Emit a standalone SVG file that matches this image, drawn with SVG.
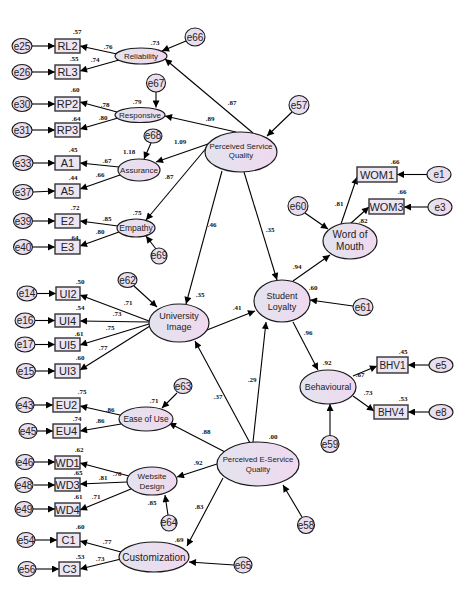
<svg xmlns="http://www.w3.org/2000/svg" width="474" height="590" viewBox="0 0 474 590">
<defs>
<linearGradient id="g" x1="0" y1="0" x2="1" y2="0">
<stop offset="0" stop-color="#e3e3ee"/>
<stop offset="1" stop-color="#efd9ef"/>
</linearGradient>
<marker id="a" viewBox="0 0 10 10" refX="10" refY="5" markerWidth="9" markerHeight="7" markerUnits="userSpaceOnUse" orient="auto">
<path d="M0,0 L10,5 L0,10 z" fill="#000"/>
</marker>
<style>
.lat{fill:url(#g);stroke:#1a1a1a;stroke-width:1.2}
.err{fill:url(#g);stroke:#1a1a1a;stroke-width:1.1}
.ind{fill:#ece5f3;stroke:#333;stroke-width:1.4}
.c line{stroke:#000;stroke-width:1.1;marker-end:url(#a)}
text{font-family:"Liberation Sans",Arial,sans-serif;fill:#222;text-anchor:middle}
.k{font-family:"Liberation Serif","Times New Roman",serif;font-size:7px;font-weight:bold;fill:#111}
.e{font-size:10px}
.r{font-size:11px}
</style>
</defs>
<rect width="474" height="590" fill="#fff"/>

<g id="connectors" class="c">
<line x1="32" y1="46" x2="55" y2="46"/>
<line x1="32" y1="72" x2="55" y2="72"/>
<line x1="117" y1="54" x2="80" y2="46"/>
<line x1="119" y1="60" x2="80" y2="71"/>
<line x1="186" y1="41" x2="162" y2="51"/>
<line x1="253" y1="133" x2="165" y2="59"/>
<line x1="32" y1="104" x2="55" y2="104"/>
<line x1="32" y1="130" x2="55" y2="130"/>
<line x1="117" y1="112" x2="80" y2="102"/>
<line x1="118" y1="118" x2="80" y2="129"/>
<line x1="156" y1="92" x2="156" y2="107.5"/>
<line x1="236" y1="132" x2="165" y2="116"/>
<line x1="151" y1="143" x2="144" y2="159"/>
<line x1="208" y1="144" x2="156" y2="162"/>
<line x1="119" y1="167" x2="80" y2="163"/>
<line x1="120" y1="175" x2="80" y2="189"/>
<line x1="33" y1="163" x2="55" y2="163"/>
<line x1="33" y1="192" x2="55" y2="191"/>
<line x1="208" y1="146" x2="146" y2="220"/>
<line x1="118" y1="226" x2="80" y2="221"/>
<line x1="119" y1="232" x2="80" y2="246"/>
<line x1="156" y1="249" x2="146" y2="236"/>
<line x1="33" y1="221" x2="55" y2="221"/>
<line x1="33" y1="247" x2="55" y2="247"/>
<line x1="222" y1="171" x2="186" y2="304"/>
<line x1="244" y1="172" x2="277" y2="280"/>
<line x1="292" y1="112" x2="267" y2="136"/>
<line x1="305" y1="213" x2="328" y2="229"/>
<line x1="293" y1="281" x2="330" y2="255"/>
<line x1="341" y1="224" x2="357" y2="177"/>
<line x1="350" y1="224" x2="369" y2="207"/>
<line x1="427" y1="174.5" x2="397" y2="174.5"/>
<line x1="428" y1="207" x2="404" y2="207"/>
<line x1="149" y1="321" x2="80" y2="295"/>
<line x1="149" y1="322" x2="80" y2="321"/>
<line x1="149" y1="324" x2="80" y2="345"/>
<line x1="150" y1="326" x2="80" y2="370"/>
<line x1="134" y1="286" x2="157" y2="307"/>
<line x1="37" y1="293.5" x2="56" y2="293.5"/>
<line x1="35" y1="320.5" x2="55" y2="320.5"/>
<line x1="35" y1="344.5" x2="55" y2="344.5"/>
<line x1="35" y1="371" x2="55" y2="371"/>
<line x1="207" y1="330" x2="255" y2="311"/>
<line x1="353" y1="306" x2="310" y2="300"/>
<line x1="293" y1="322" x2="318" y2="370"/>
<line x1="353" y1="376" x2="377" y2="366"/>
<line x1="353" y1="396" x2="374" y2="411"/>
<line x1="429" y1="365" x2="408" y2="365"/>
<line x1="429" y1="412" x2="408" y2="412"/>
<line x1="330" y1="435" x2="330" y2="404"/>
<line x1="253" y1="442" x2="266" y2="322"/>
<line x1="250" y1="443" x2="195" y2="341"/>
<line x1="225" y1="452" x2="169" y2="423"/>
<line x1="217" y1="464" x2="177" y2="477"/>
<line x1="223" y1="478" x2="187" y2="546"/>
<line x1="302" y1="517" x2="283" y2="485"/>
<line x1="177" y1="393" x2="162" y2="408"/>
<line x1="120" y1="415" x2="80" y2="406"/>
<line x1="121" y1="424" x2="80" y2="431"/>
<line x1="34" y1="405" x2="53" y2="405"/>
<line x1="37" y1="431" x2="53" y2="431"/>
<line x1="129" y1="476" x2="80" y2="463"/>
<line x1="127" y1="482" x2="80" y2="484"/>
<line x1="131" y1="489" x2="80" y2="510"/>
<line x1="168" y1="515" x2="165" y2="495"/>
<line x1="34" y1="462" x2="55" y2="462"/>
<line x1="34" y1="485" x2="55" y2="485"/>
<line x1="33" y1="509" x2="55" y2="509"/>
<line x1="121" y1="552" x2="80" y2="541"/>
<line x1="121" y1="559" x2="80" y2="569"/>
<line x1="234" y1="565" x2="189" y2="562"/>
<line x1="35" y1="540" x2="57" y2="540"/>
<line x1="36" y1="569" x2="59" y2="569"/>
</g>

<g id="coefficients" class="k">
<text class="k" x="77" y="34">.57</text>
<text class="k" x="74" y="61">.55</text>
<text class="k" x="108" y="49">.76</text>
<text class="k" x="95" y="62">.74</text>
<text class="k" x="155" y="45">.73</text>
<text class="k" x="232" y="105">.87</text>
<text class="k" x="75" y="92">.60</text>
<text class="k" x="105" y="107">.78</text>
<text class="k" x="137" y="104">.79</text>
<text class="k" x="76" y="121">.64</text>
<text class="k" x="103" y="120">.80</text>
<text class="k" x="210" y="121">.89</text>
<text class="k" x="129" y="154">1.18</text>
<text class="k" x="180" y="144">1.09</text>
<text class="k" x="73" y="152">.45</text>
<text class="k" x="107" y="163">.67</text>
<text class="k" x="100" y="177">.66</text>
<text class="k" x="73" y="180">.44</text>
<text class="k" x="169" y="179">.87</text>
<text class="k" x="137" y="215">.75</text>
<text class="k" x="75" y="210">.72</text>
<text class="k" x="107" y="221">.85</text>
<text class="k" x="100" y="234">.80</text>
<text class="k" x="74" y="240">.64</text>
<text class="k" x="212" y="227">.46</text>
<text class="k" x="395" y="164">.66</text>
<text class="k" x="402" y="194">.66</text>
<text class="k" x="339" y="206">.81</text>
<text class="k" x="363" y="223">.82</text>
<text class="k" x="270" y="232">.35</text>
<text class="k" x="297" y="269">.94</text>
<text class="k" x="80" y="284">.50</text>
<text class="k" x="128" y="305">.71</text>
<text class="k" x="80" y="310">.54</text>
<text class="k" x="117" y="316">.73</text>
<text class="k" x="79" y="336">.61</text>
<text class="k" x="110" y="330">.75</text>
<text class="k" x="80" y="360">.60</text>
<text class="k" x="103" y="350">.77</text>
<text class="k" x="200" y="297">.35</text>
<text class="k" x="237" y="310">.41</text>
<text class="k" x="313" y="290">.60</text>
<text class="k" x="308" y="335">.96</text>
<text class="k" x="327" y="365">.92</text>
<text class="k" x="403" y="354">.45</text>
<text class="k" x="360" y="377">.67</text>
<text class="k" x="368" y="395">.73</text>
<text class="k" x="403" y="401">.53</text>
<text class="k" x="252" y="382">.29</text>
<text class="k" x="218" y="399">.37</text>
<text class="k" x="206" y="434">.88</text>
<text class="k" x="273" y="439">.00</text>
<text class="k" x="198" y="465">.92</text>
<text class="k" x="199" y="509">.83</text>
<text class="k" x="154" y="403">.71</text>
<text class="k" x="82" y="394">.75</text>
<text class="k" x="110" y="412">.86</text>
<text class="k" x="100" y="423">.86</text>
<text class="k" x="77" y="421">.74</text>
<text class="k" x="79" y="452">.62</text>
<text class="k" x="117" y="476">.78</text>
<text class="k" x="78" y="475">.65</text>
<text class="k" x="103" y="480">.81</text>
<text class="k" x="78" y="499">.61</text>
<text class="k" x="96" y="499">.71</text>
<text class="k" x="152" y="505">.85</text>
<text class="k" x="80" y="529">.60</text>
<text class="k" x="107" y="544">.77</text>
<text class="k" x="80" y="559">.53</text>
<text class="k" x="100" y="561">.73</text>
<text class="k" x="179" y="542">.69</text>
</g>

<!-- latent variables -->
<g id="Reliability"><ellipse class="lat" cx="141" cy="56" rx="26" ry="8"/><text x="141" y="59" font-size="8">Reliability</text></g>
<g id="Responsive"><ellipse class="lat" cx="140" cy="115" rx="25" ry="7.5"/><text x="140" y="118" font-size="8">Responsive</text></g>
<g id="Assurance"><ellipse class="lat" cx="139" cy="170" rx="21" ry="11"/><text x="139" y="173" font-size="8">Assurance</text></g>
<g id="Empathy"><ellipse class="lat" cx="136" cy="228" rx="19" ry="9"/><text x="136" y="231" font-size="8.5">Empathy</text></g>
<g id="PSQ"><ellipse class="lat" cx="241" cy="152" rx="36" ry="20"/><text x="241" y="149" font-size="7.8">Perceived Service</text><text x="241" y="158" font-size="7.8">Quality</text></g>
<g id="WOM"><ellipse class="lat" cx="350" cy="241" rx="27" ry="18"/><text x="350" y="238" font-size="10">Word of</text><text x="350" y="250" font-size="10">Mouth</text></g>
<g id="UI"><ellipse class="lat" cx="179" cy="323" rx="30" ry="19"/><text x="179" y="319" font-size="9">University</text><text x="179" y="330" font-size="9">Image</text></g>
<g id="SL"><ellipse class="lat" cx="282" cy="301" rx="28" ry="21"/><text x="282" y="299" font-size="9">Student</text><text x="282" y="310" font-size="9">Loyalty</text></g>
<g id="Behavioural"><ellipse class="lat" cx="328" cy="387" rx="28" ry="17"/><text x="328" y="390" font-size="8.8">Behavioural</text></g>
<g id="EaseOfUse"><ellipse class="lat" cx="146" cy="419" rx="27" ry="12"/><text x="146" y="422" font-size="8.3">Ease of Use</text></g>
<g id="WebsiteDesign"><ellipse class="lat" cx="152" cy="481" rx="25" ry="14"/><text x="152" y="479" font-size="8">Website</text><text x="152" y="489" font-size="8">Design</text></g>
<g id="PESQ"><ellipse class="lat" cx="258" cy="464" rx="41" ry="22"/><text x="258" y="462" font-size="7.8">Perceived E-Service</text><text x="258" y="472" font-size="7.8">Quality</text></g>
<g id="Customization"><ellipse class="lat" cx="154" cy="557" rx="35" ry="15"/><text x="154" y="561" font-size="10">Customization</text></g>

<!-- indicators -->
<g id="RL2"><rect class="ind" x="55" y="39" width="25" height="14"/><text class="r" x="67.5" y="50">RL2</text></g>
<g id="RL3"><rect class="ind" x="55" y="65" width="25" height="14"/><text class="r" x="67.5" y="76">RL3</text></g>
<g id="RP2"><rect class="ind" x="55" y="97" width="25" height="14"/><text class="r" x="67.5" y="108">RP2</text></g>
<g id="RP3"><rect class="ind" x="55" y="123" width="25" height="14"/><text class="r" x="67.5" y="134">RP3</text></g>
<g id="A1"><rect class="ind" x="55" y="156" width="25" height="14"/><text class="r" x="67.5" y="167">A1</text></g>
<g id="A5"><rect class="ind" x="55" y="184" width="25" height="14"/><text class="r" x="67.5" y="195">A5</text></g>
<g id="E2"><rect class="ind" x="55" y="214" width="25" height="14"/><text class="r" x="67.5" y="225">E2</text></g>
<g id="E3"><rect class="ind" x="55" y="240" width="25" height="14"/><text class="r" x="67.5" y="251">E3</text></g>
<g id="UI2"><rect class="ind" x="56" y="287" width="24" height="13"/><text class="r" x="68" y="297.5">UI2</text></g>
<g id="UI4"><rect class="ind" x="55" y="314" width="25" height="13"/><text class="r" x="67.5" y="324.5">UI4</text></g>
<g id="UI5"><rect class="ind" x="55" y="338" width="25" height="13"/><text class="r" x="67.5" y="348.5">UI5</text></g>
<g id="UI3"><rect class="ind" x="55" y="364" width="25" height="14"/><text class="r" x="67.5" y="375">UI3</text></g>
<g id="EU2"><rect class="ind" x="53" y="398" width="27" height="14"/><text class="r" x="66.5" y="409">EU2</text></g>
<g id="EU4"><rect class="ind" x="53" y="424" width="27" height="14"/><text class="r" x="66.5" y="435">EU4</text></g>
<g id="WD1"><rect class="ind" x="55" y="456" width="25" height="13"/><text class="r" x="67.5" y="466.5">WD1</text></g>
<g id="WD3"><rect class="ind" x="55" y="478" width="25" height="13"/><text class="r" x="67.5" y="488.5">WD3</text></g>
<g id="WD4"><rect class="ind" x="55" y="503" width="25" height="13"/><text class="r" x="67.5" y="513.5">WD4</text></g>
<g id="C1"><rect class="ind" x="57" y="533" width="23" height="14"/><text class="r" x="68.5" y="544">C1</text></g>
<g id="C3"><rect class="ind" x="59" y="562" width="21" height="14"/><text class="r" x="69.5" y="573">C3</text></g>
<g id="WOM1"><rect class="ind" x="357" y="167" width="40" height="15"/><text class="r" x="377" y="178.5">WOM1</text></g>
<g id="WOM3"><rect class="ind" x="369" y="199" width="35" height="15"/><text class="r" x="386.5" y="210.5">WOM3</text></g>
<g id="BHV1"><rect class="ind" x="377" y="357" width="31" height="16"/><text x="392.5" y="369" font-size="10">BHV1</text></g>
<g id="BHV4"><rect class="ind" x="374" y="405" width="34" height="14"/><text x="391" y="416" font-size="10">BHV4</text></g>

<!-- error terms -->
<g id="e25"><ellipse class="err" cx="22" cy="46" rx="10" ry="7.5"/><text class="e" x="22" y="49.5">e25</text></g>
<g id="e26"><ellipse class="err" cx="22" cy="72" rx="10" ry="7.5"/><text class="e" x="22" y="75.5">e26</text></g>
<g id="e30"><ellipse class="err" cx="22" cy="104" rx="10" ry="7.5"/><text class="e" x="22" y="107.5">e30</text></g>
<g id="e31"><ellipse class="err" cx="22" cy="130" rx="10" ry="7.5"/><text class="e" x="22" y="133.5">e31</text></g>
<g id="e33"><ellipse class="err" cx="23" cy="163" rx="10" ry="7.5"/><text class="e" x="23" y="166.5">e33</text></g>
<g id="e37"><ellipse class="err" cx="23" cy="192" rx="10" ry="7.5"/><text class="e" x="23" y="195.5">e37</text></g>
<g id="e39"><ellipse class="err" cx="23" cy="221" rx="9.5" ry="7.5"/><text class="e" x="23" y="224.5">e39</text></g>
<g id="e40"><ellipse class="err" cx="23" cy="247" rx="9.5" ry="7.5"/><text class="e" x="23" y="250.5">e40</text></g>
<g id="e14"><ellipse class="err" cx="27" cy="293.5" rx="10" ry="7.5"/><text class="e" x="27" y="297">e14</text></g>
<g id="e16"><ellipse class="err" cx="25" cy="320.5" rx="10" ry="7.5"/><text class="e" x="25" y="324">e16</text></g>
<g id="e17"><ellipse class="err" cx="25" cy="344.5" rx="10" ry="7.5"/><text class="e" x="25" y="348">e17</text></g>
<g id="e15"><ellipse class="err" cx="26" cy="371" rx="9.5" ry="7.5"/><text class="e" x="26" y="374.5">e15</text></g>
<g id="e43"><ellipse class="err" cx="25" cy="405" rx="9" ry="7.5"/><text class="e" x="25" y="408.5" font-size="9">e43</text></g>
<g id="e45"><ellipse class="err" cx="28" cy="431" rx="9" ry="7.5"/><text class="e" x="28" y="434.5" font-size="9">e45</text></g>
<g id="e46"><ellipse class="err" cx="25" cy="462" rx="9" ry="7.5"/><text class="e" x="25" y="465.5" font-size="9">e46</text></g>
<g id="e48"><ellipse class="err" cx="24" cy="485" rx="9" ry="7.5"/><text class="e" x="24" y="488.5" font-size="9">e48</text></g>
<g id="e49"><ellipse class="err" cx="24" cy="509" rx="9" ry="7.5"/><text class="e" x="24" y="512.5" font-size="9">e49</text></g>
<g id="e54"><ellipse class="err" cx="26" cy="540" rx="9" ry="7.5"/><text class="e" x="26" y="543.5" font-size="9">e54</text></g>
<g id="e56"><ellipse class="err" cx="27" cy="569" rx="9" ry="7.5"/><text class="e" x="27" y="572.5" font-size="9">e56</text></g>
<g id="e66"><ellipse class="err" cx="195" cy="37" rx="10" ry="9"/><text class="e" x="195" y="40.5">e66</text></g>
<g id="e67"><ellipse class="err" cx="156" cy="83" rx="9.5" ry="9"/><text class="e" x="156" y="86.5">e67</text></g>
<g id="e68"><ellipse class="err" cx="153" cy="136" rx="9" ry="7"/><text class="e" x="153" y="139" font-size="9">e68</text></g>
<g id="e69"><ellipse class="err" cx="159" cy="256" rx="8" ry="8"/><text class="e" x="159" y="259" font-size="8.5">e69</text></g>
<g id="e57"><ellipse class="err" cx="299" cy="105" rx="10" ry="9.5"/><text class="e" x="299" y="108.5">e57</text></g>
<g id="e60"><ellipse class="err" cx="298" cy="206" rx="10" ry="9.5"/><text class="e" x="298" y="209.5">e60</text></g>
<g id="e1"><ellipse class="err" cx="439" cy="174.5" rx="12" ry="8"/><text class="e" x="439" y="178">e1</text></g>
<g id="e3"><ellipse class="err" cx="440" cy="207" rx="12" ry="8.5"/><text class="e" x="440" y="210.5">e3</text></g>
<g id="e62"><ellipse class="err" cx="127.5" cy="280" rx="9.5" ry="7.5"/><text class="e" x="127.5" y="283.5" font-size="9">e62</text></g>
<g id="e61"><ellipse class="err" cx="363" cy="307" rx="10" ry="8.5"/><text class="e" x="363" y="310.5">e61</text></g>
<g id="e5"><ellipse class="err" cx="441" cy="365" rx="12" ry="7.5"/><text class="e" x="441" y="368.5">e5</text></g>
<g id="e8"><ellipse class="err" cx="441" cy="412" rx="12" ry="7.5"/><text class="e" x="441" y="415.5">e8</text></g>
<g id="e59"><ellipse class="err" cx="330" cy="444" rx="9" ry="8.5"/><text class="e" x="330" y="447.5" font-size="9">e59</text></g>
<g id="e63"><ellipse class="err" cx="183" cy="386" rx="9" ry="7.5"/><text class="e" x="183" y="389.5" font-size="9">e63</text></g>
<g id="e64"><ellipse class="err" cx="169" cy="523" rx="8" ry="8"/><text class="e" x="169" y="526" font-size="8.5">e64</text></g>
<g id="e58"><ellipse class="err" cx="306" cy="525" rx="8.5" ry="8.5"/><text class="e" x="306" y="528.5" font-size="9">e58</text></g>
<g id="e65"><ellipse class="err" cx="243" cy="565" rx="9" ry="8"/><text class="e" x="243" y="568.5" font-size="9">e65</text></g>
</svg>
